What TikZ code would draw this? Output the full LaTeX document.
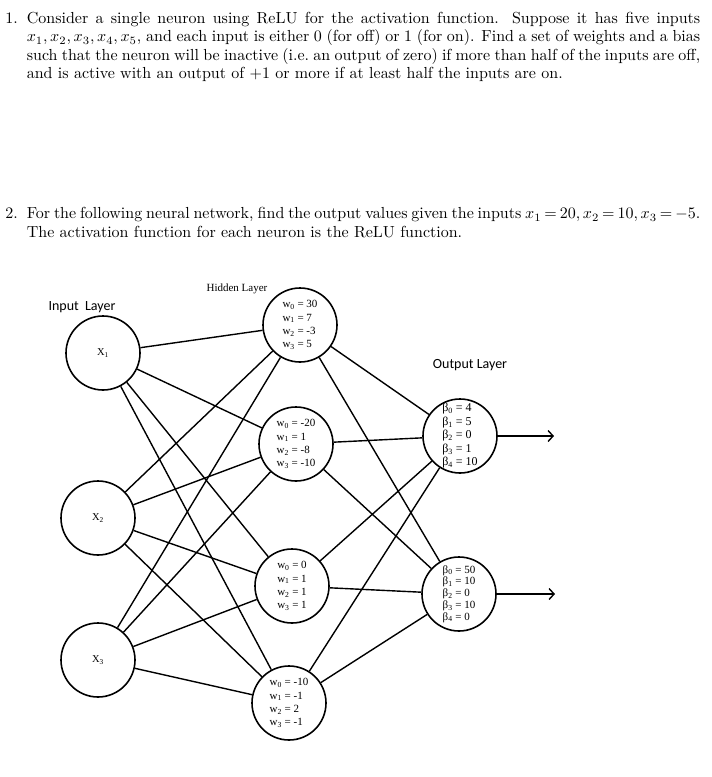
\documentclass[tikz,border=0pt]{standalone}
\usepackage{fontspec}
\usetikzlibrary{arrows.meta}
\newfontfamily\tnr{Liberation Serif}
\newfontfamily\carl{Carlito}
\tikzset{
  neuron/.style={circle,draw,line width=1.6pt,minimum size=74pt,inner sep=0pt,align=left},
  hidtext/.style={font=\tnr\fontsize{11}{13.3}\selectfont},
  outtext/.style={font=\tnr\fontsize{12}{13.5}\selectfont},
  out2text/.style={font=\tnr\fontsize{11}{11.8}\selectfont},
  intext/.style={font=\tnr\fontsize{10.5}{12}\selectfont},
  edge/.style={line width=1.4pt},
  outarrow/.style={line width=1.4pt,-{Straight Barb[length=5pt,width=11pt,line width=1.4pt]}},
  qtext/.style={anchor=north west,inner sep=0pt,text width=420.9pt,align=justify,
    font=\fontsize{10}{11.625}\selectfont,scale=1.6,transform shape},
  qnum/.style={anchor=north west,inner sep=0pt,font=\fontsize{10}{11.625}\selectfont,
    scale=1.6,transform shape},
  layertitle/.style={font=\carl\fontsize{14}{16}\selectfont},
}
\newcommand{\wsub}[1]{w\textsubscript{#1}}
\newcommand{\bsub}[1]{β\textsubscript{#1}}
\begin{document}
\begin{tikzpicture}[x=1pt,y=-1pt]
\useasboundingbox (0,0) rectangle (712,777);
\fill[white] (0,0) rectangle (712,777);

\node[qnum] (n1) at (5,9.7) {\strut 1.};
\node[qtext] (q1) at (26.5,9.7) {\strut Consider a single neuron using ReLU for the activation function. Suppose it has five inputs\linebreak
$x_1,x_2,x_3,x_4,x_5$, and each input is either 0 (for off) or 1 (for on). Find a set of weights and a bias\linebreak
such that the neuron will be inactive (i.e.\ an output of zero) if more than half of the inputs are off,\linebreak
and is active with an output of $+1$ or more if at least half the inputs are on.};

\node[qnum] (n2) at (5,205.5) {\strut 2.};
\node[qtext] (q2) at (26.5,205.5) {\thickmuskip=5mu minus 2mu\strut\makebox[\linewidth][s]{For the following neural network, find the output values given the inputs $x_1=20, x_2=10, x_3=-5$.}\\
The activation function for each neuron is the ReLU function.};

% layer titles
\node[layertitle] (tin) at (82,307) {Input\hspace{0.45em}Layer};
\node[font=\tnr\fontsize{11}{13}\selectfont] (thid) at (237,289) {Hidden Layer};
\node[layertitle] (tout) at (470,365) {Output Layer};

% input neurons
\node[neuron,intext] (x1) at (103,353) {X\textsubscript{1}};
\node[neuron,intext] (x2) at (98,518) {X\textsubscript{2}};
\node[neuron,intext] (x3) at (98,660) {X\textsubscript{3}};

% hidden neurons
\node[neuron,hidtext] (h1) at (300,325) {\wsub{0} = 30\\\wsub{1} = 7\\\wsub{2} = -3\\\wsub{3} = 5};
\node[neuron,hidtext] (h2) at (296,444) {\wsub{0} = -20\\\wsub{1} = 1\\\wsub{2} = -8\\\wsub{3} = -10};
\node[neuron,hidtext] (h3) at (292,586) {\wsub{0} = 0\\\wsub{1} = 1\\\wsub{2} = 1\\\wsub{3} = 1};
\node[neuron,hidtext] (h4) at (289,703) {\wsub{0} = -10\\\wsub{1} = -1\\\wsub{2} = 2\\\wsub{3} = -1};

% output neurons
\node[neuron,outtext] (o1) at (460,436) {\bsub{0} = 4\\\bsub{1} = 5\\\bsub{2} = 0\\\bsub{3} = 1\\\bsub{4} = 10};
\node[neuron,out2text] (o2) at (459,594) {\bsub{0} = 50\\\bsub{1} = 10\\\bsub{2} = 0\\\bsub{3} = 10\\\bsub{4} = 0};

% connections input -> hidden
\foreach \i in {x1,x2,x3}{
  \foreach \h in {h1,h2,h3,h4}{
    \draw[edge] (\i) -- (\h);
  }
}
% connections hidden -> output
\foreach \h in {h1,h2,h3,h4}{
  \foreach \o in {o1,o2}{
    \draw[edge] (\h) -- (\o);
  }
}

% output arrows
\coordinate (a1) at (554,436);
\coordinate (a2) at (555,594);
\draw[outarrow] (o1) -- (a1);
\draw[outarrow] (o2) -- (a2);
\end{tikzpicture}
\end{document}
